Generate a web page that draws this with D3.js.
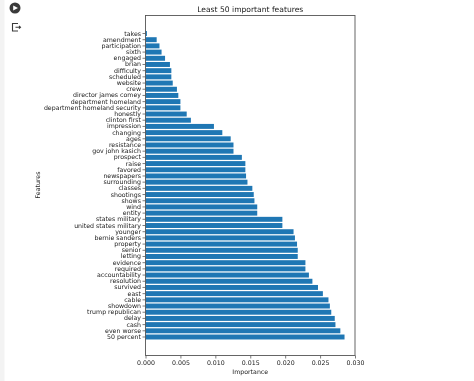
<!DOCTYPE html>
<html><head><meta charset="utf-8">
<script src="https://cdn.jsdelivr.net/npm/d3@7/dist/d3.min.js"></script>
<style>html,body{margin:0;padding:0;background:#fff}svg{display:block;filter:blur(.35px)}text{font-family:"DejaVu Sans",sans-serif;fill:#1a1a1a}</style>
</head><body><div id="c"></div>
<script>
const features = ["takes","amendment","participation","sixth","engaged","brian","difficulty","scheduled","website","crew","director james comey","department homeland","department homeland security","honestly","clinton first","impression","changing","ages","resistance","gov john kasich","prospect","raise","favored","newspapers","surrounding","classes","shootings","shows","wind","entity","states military","united states military","younger","bernie sanders","property","senior","letting","evidence","required","accountability","resolution","survived","east","cable","showdown","trump republican","delay","cash","even worse","50 percent"];
const importance = [0.0002,0.0016,0.002,0.0023,0.0028,0.0035,0.0037,0.0037,0.0039,0.0045,0.0047,0.005,0.005,0.0059,0.0065,0.0098,0.011,0.0122,0.0126,0.0126,0.0138,0.0143,0.0143,0.0144,0.0146,0.0153,0.0155,0.0156,0.016,0.016,0.0196,0.0196,0.0212,0.0214,0.0217,0.0218,0.0218,0.0229,0.0229,0.0234,0.0239,0.0247,0.0254,0.0262,0.0264,0.0266,0.0271,0.0272,0.0279,0.0285];
const xTicks = [0,0.005,0.010,0.015,0.020,0.025,0.030];
const W=474,H=381,L=145.5,R=355,T=15.5,B=355.5;
const svg=d3.select("#c").append("svg").attr("width",W).attr("height",H);
svg.append("rect").attr("x",0).attr("y",0).attr("width",W).attr("height",H).attr("fill","#fff");
svg.append("rect").attr("x",0).attr("y",0).attr("width",4.5).attr("height",H).attr("fill","#f3f3f3");
svg.append("circle").attr("cx",15).attr("cy",8).attr("r",5.5).attr("fill","#3a3a3a");
svg.append("path").attr("d","M13.2 5.4 L18 8 L13.2 10.6 Z").attr("fill","#fff");
svg.append("path").attr("d","M18 23.5 H12.5 V31 H18 M15.5 27.2 H20.5 M19 25.8 L20.5 27.2 L19 28.6").attr("fill","none").attr("stroke","#3a3a3a").attr("stroke-width",1.1);

const x=d3.scaleLinear().domain([0,0.03]).range([L,R]);
const step=(337-33.5)/49;
const y=d3.scaleBand().domain(features).range([33.5-step/2,337+step/2]).paddingInner(0.2).paddingOuter(0.1);

svg.append("g").selectAll("rect").data(features).join("rect")
 .attr("x",x(0)).attr("y",d=>y(d)).attr("height",y.bandwidth())
 .attr("width",(d,i)=>x(importance[i])-x(0)).attr("fill","#1f77b4");

const ax=svg.append("g").attr("transform",`translate(0,${B})`).call(d3.axisBottom(x).tickValues(xTicks).tickFormat(d3.format(".3f")).tickSize(3).tickPadding(2));
const ay=svg.append("g").attr("transform",`translate(${L},0)`).call(d3.axisLeft(y).tickSize(3).tickPadding(1.5));
[ax,ay].forEach(g=>{g.select(".domain").remove();g.selectAll("text").attr("font-size",6.25).style("font-family",'"DejaVu Sans",sans-serif').attr("fill","#1a1a1a");g.selectAll("line").attr("stroke","#444").attr("stroke-width",.7)});
svg.append("rect").attr("x",L).attr("y",T).attr("width",R-L).attr("height",B-T).attr("fill","none").attr("stroke","#555").attr("stroke-width",.9);
svg.append("text").attr("x",(L+R)/2).attr("y",12).attr("text-anchor","middle").attr("font-size",7.6).text("Least 50 important features");
svg.append("text").attr("x",(L+R)/2).attr("y",374).attr("text-anchor","middle").attr("font-size",6.25).text("Importance");
svg.append("text").attr("transform",`translate(40,185) rotate(-90)`).attr("text-anchor","middle").attr("font-size",6.25).text("Features");
</script></body></html>
